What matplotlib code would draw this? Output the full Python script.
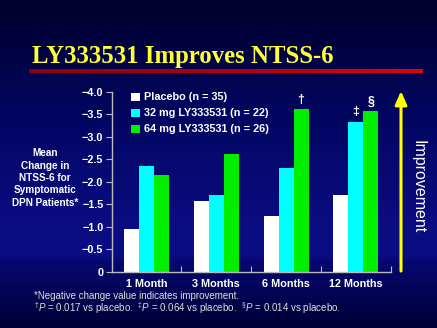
import numpy as np
import matplotlib
matplotlib.use("Agg")
import matplotlib.pyplot as plt
from matplotlib.colors import LinearSegmentedColormap

plt.rcParams["font.family"] = ["Liberation Sans", "DejaVu Sans"]
plt.rcParams["mathtext.fontset"] = "custom"
plt.rcParams["mathtext.rm"] = "Liberation Sans"
plt.rcParams["mathtext.it"] = "Liberation Sans:italic"

# data (mean change in NTSS-6; negative = improvement)
timepoints = ["1 Month", "3 Months", "6 Months", "12 Months"]
placebo = [-0.96, -1.57, -1.24, -1.70]
ly32 = [-2.35, -1.70, -2.31, -3.33]
ly64 = [-2.15, -2.61, -3.61, -3.57]
series_labels = ["Placebo (n = 35)", "32 mg LY333531 (n = 22)",
                 "64 mg LY333531 (n = 26)"]
yticks = [0, -0.5, -1.0, -1.5, -2.0, -2.5, -3.0, -3.5, -4.0]

colors = ["#ffffff", "#00ffff", "#00ee00"]
W, H = 437, 328
fig = plt.figure(figsize=(W / 100, H / 100), dpi=100)

# background gradient
bg = fig.add_axes([0, 0, 1, 1])
grad = np.linspace(0, 1, 328).reshape(-1, 1)
cmap = LinearSegmentedColormap.from_list(
    "bg", [(0.0, "#00002c"), (0.35, "#020660"), (0.66, "#0a0c80"),
           (0.78, "#0b0d84"), (0.80, "#060870"), (1.0, "#000036")])
bg.imshow(grad, aspect="auto", cmap=cmap, extent=[0, 1, 0, 1], origin="upper")
bg.set_xlim(0, 1)
bg.set_ylim(0, 1)
bg.axis("off")

# title + red rule
fig.text(32 / W, 1 - 63 / H, "LY333531 Improves NTSS-6", color="#ffff33",
         fontsize=17.8, fontweight="bold", family="Liberation Serif",
         ha="left", va="baseline")
rule = np.linspace(0, 1, 200).reshape(1, -1)
rcmap = LinearSegmentedColormap.from_list("r", ["#8a0010", "#b00010", "#e00010"])
bg.imshow(rule, aspect="auto", cmap=rcmap,
          extent=[29 / W, 423 / W, 1 - 73 / H, 1 - 69 / H], zorder=2)

# main axes
ax = fig.add_axes([111.7 / W, 1 - 271.7 / H, (390.7 - 111.7) / W,
                   (271.7 - 91.7) / H])
ax.patch.set_alpha(0)
x = np.arange(len(timepoints)) + 0.5
bw = 0.215
for i, (vals, c) in enumerate(zip([placebo, ly32, ly64], colors)):
    ax.bar(x + (i - 1) * bw, vals, width=bw, color=c, edgecolor="none",
           label=series_labels[i])
ax.set_xlim(0, 4)
ax.set_ylim(0, -4)
ax.set_yticks(yticks)
ax.set_yticklabels(["0"] + [f"\u2212{abs(v):.1f}" for v in yticks[1:]])
ax.set_xticks([1, 2, 3, 4])
ax.set_xticklabels([])
ax.set_xticks(x, minor=True)
ax.set_xticklabels(timepoints, minor=True)
ax.tick_params(axis="x", which="major", direction="in", length=4,
               color="#bbbbbb")
ax.tick_params(axis="x", which="minor", length=0, pad=5, labelsize=7.8,
               labelcolor="white")
ax.tick_params(axis="y", direction="out", length=4, color="#bbbbbb",
               labelsize=7.8, labelcolor="white", pad=2)
for lab in ax.get_xticklabels(minor=True) + ax.get_yticklabels():
    lab.set_fontweight("bold")
for s in ["top", "right"]:
    ax.spines[s].set_visible(False)
for s in ["left", "bottom"]:
    ax.spines[s].set_color("#bbbbbb")
    ax.spines[s].set_linewidth(1.0)

# significance markers
ax.text(x[2] + bw, ly64[2] - 0.08, "\u2020", color="white", fontsize=9,
        fontweight="bold", ha="center", va="bottom")
ax.text(x[3], ly32[3] - 0.08, "\u2021", color="white", fontsize=9,
        fontweight="bold", ha="center", va="bottom")
ax.text(x[3] + bw, ly64[3] - 0.08, "\u00a7", color="white", fontsize=9,
        fontweight="bold", ha="center", va="bottom")

# legend
leg = ax.legend(loc="upper left", bbox_to_anchor=(0.055, 1.02), frameon=False,
                fontsize=7.8, handlelength=0.75, handleheight=0.75,
                handletextpad=0.45, labelspacing=0.55, borderaxespad=0)
for t in leg.get_texts():
    t.set_color("white")
    t.set_fontweight("bold")

# y label
fig.text(45 / W, 1 - 178 / H,
         "Mean\nChange in\nNTSS-6 for\nSymptomatic\nDPN Patients*",
         color="white", fontsize=7.2, fontweight="bold", ha="center",
         va="center", linespacing=1.3)

# improvement arrow
bg.annotate("", xy=(401 / W, 1 - 91 / H), xytext=(401 / W, 1 - 271 / H),
            arrowprops=dict(arrowstyle="-|>,head_length=0.8,head_width=0.35",
                            color="#ffff00", lw=2.2, shrinkA=0, shrinkB=0))
fig.text(418 / W, 1 - 187 / H, "Improvement", color="white", fontsize=11.5,
         rotation=-90, ha="center", va="center")

# footnotes
fig.text(34 / W, 1 - 296 / H, "*Negative change value indicates improvement.",
         color="#dddddd", fontsize=7.0, ha="left", va="center")
fig.text(34 / W, 1 - 308 / H,
         r"$^{\dagger}\mathit{P}$ = 0.017 vs placebo.  "
         r"$^{\ddagger}\mathit{P}$ = 0.064 vs placebo.  "
         r"$^{\S}\mathit{P}$ = 0.014 vs placebo.",
         color="#dddddd", fontsize=7.0, ha="left", va="center")

fig.savefig("out.png", dpi=100)
